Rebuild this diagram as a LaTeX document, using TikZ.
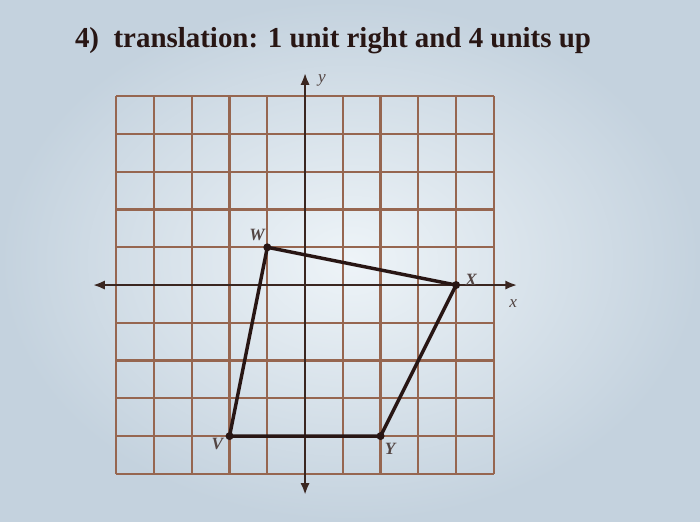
\documentclass[tikz,border=0pt]{standalone}
\usepackage{fontspec}
\setmainfont{Liberation Serif}
\usetikzlibrary{arrows.meta}

\definecolor{paper}{RGB}{196,210,222}
\definecolor{paperlight}{RGB}{238,244,248}
\definecolor{gridbrown}{RGB}{150,102,80}
\definecolor{axisdark}{RGB}{58,38,32}
\definecolor{figdark}{RGB}{40,22,20}

\tikzset{
  gridline/.style={gridbrown,line width=1.7pt},
  axisline/.style={axisdark,line width=2pt,{Latex[length=9pt,width=7pt]}-{Latex[length=9pt,width=7pt]}},
  figline/.style={figdark,line width=2.6pt,line join=round},
  ptlabel/.style={figdark!80,font=\fontsize{13}{13}\selectfont\itshape\bfseries,inner sep=0pt},
  axlabel/.style={figdark!80,font=\fontsize{13}{13}\selectfont\itshape,inner sep=0pt}
}

\begin{document}
\begin{tikzpicture}

\useasboundingbox (-8.08,-6.25) rectangle (10.46,7.55);
\shade[inner color=paperlight,outer color=paper] (-8.08,-6.25) rectangle (10.46,7.55);

\node[font=\fontsize{21.8}{26}\selectfont\bfseries,figdark] (title) at (0.74,6.48)
  {4)\enspace translation: 1 unit right and 4 units up};

% grid and axes
\draw[gridline] (-5,-5) grid (5,5);
\coordinate (xl) at (-5.62,0);
\coordinate (xr) at (5.62,0);
\coordinate (yb) at (0,-5.56);
\coordinate (yt) at (0,5.62);
\draw[axisline] (xl) -- (xr);
\draw[axisline] (yb) -- (yt);
\node[axlabel] (xname) at (5.51,-0.48) {x};
\node[axlabel] (yname) at (0.45,5.43) {y};

% the figure WXYV
\coordinate (W) at (-1,1);
\coordinate (X) at (4,0);
\coordinate (Y) at (2,-4);
\coordinate (V) at (-2,-4);
\draw[figline] (W) -- (X) -- (Y) -- (V) -- cycle;
\foreach \p in {W,X,Y,V}
    \fill[figdark] (\p) circle (3pt);

\node[ptlabel] (Wname) at (-1.27,1.32) {W};
\node[ptlabel] (Xname) at (4.4,0.13) {X};
\node[ptlabel] (Yname) at (2.25,-4.34) {Y};
\node[ptlabel] (Vname) at (-2.32,-4.22) {V};

\end{tikzpicture}
\end{document}
